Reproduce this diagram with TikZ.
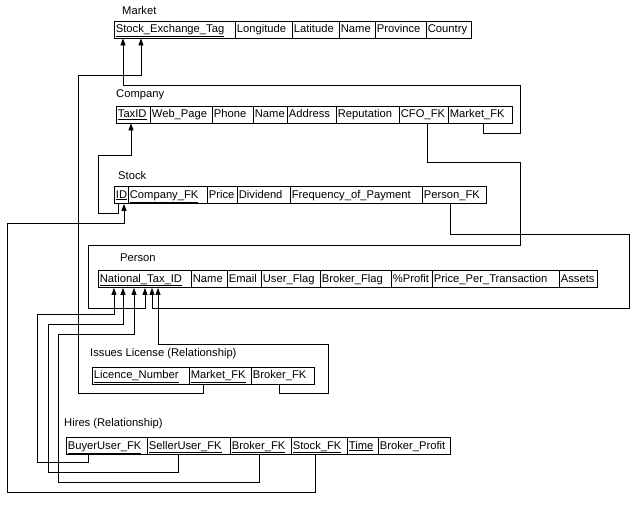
\documentclass[tikz,border=0pt]{standalone}
\usepackage{fontspec}
\setmainfont{Liberation Sans}
\usetikzlibrary{arrows.meta}
\begin{document}
\begin{tikzpicture}[x=1pt,y=-1pt,
  cell/.style={draw,line width=0.8pt,anchor=west,inner xsep=1.5pt,inner ysep=0pt,minimum height=17pt,text height=8.5pt,text depth=2.5pt,align=left,font=\fontsize{11.2}{12}\selectfont},
  ttl/.style={anchor=west,inner sep=0pt,font=\fontsize{11.2}{12}\selectfont},
  con/.style={line width=0.8pt},
  arr/.style={line width=0.8pt,-{Triangle[length=7pt,width=5pt]}}]
\useasboundingbox (0,0) rectangle (636,504);
\newcommand{\cl}[5]{\node[cell,text width=#3-#2-3pt] (#1) at (#2,#4) {#5};}
% Market
\node[ttl] (tm) at (122,10) {Market};
\cl{mset}{114}{235}{29.5}{\underline{Stock\_Exchange\_Tag}}
\cl{mlon}{235}{292}{29.5}{Longitude}
\cl{mlat}{292}{339}{29.5}{Latitude}
\cl{mnam}{339}{375}{29.5}{Name}
\cl{mpro}{375}{426}{29.5}{Province}
\cl{mcou}{426}{471}{29.5}{Country}
% Company
\node[ttl] (tc) at (116,95) {Company};
\cl{ctax}{116}{150}{114.5}{\underline{TaxID}}
\cl{cweb}{150}{212}{114.5}{Web\_Page}
\cl{cpho}{212}{253}{114.5}{Phone}
\cl{cnam}{253}{287}{114.5}{Name}
\cl{cadd}{287}{336}{114.5}{Address}
\cl{crep}{336}{399}{114.5}{Reputation}
\cl{ccfo}{399}{448}{114.5}{CFO\_FK}
\cl{cmkt}{448}{512}{114.5}{Market\_FK}
% Stock
\node[ttl] (ts) at (118,175) {Stock};
\cl{sid}{114}{128}{195}{\underline{ID}}
\cl{scom}{128}{207}{195}{\underline{Company\_FK}}
\cl{spri}{207}{237}{195}{Price}
\cl{sdiv}{237}{290}{195}{Dividend}
\cl{sfre}{290}{422}{195}{Frequency\_of\_Payment}
\cl{sper}{422}{486}{195}{Person\_FK}
% Person
\node[ttl] (tp) at (120,258) {Person};
\cl{pnat}{98}{191}{279}{\underline{National\_Tax\_ID}}
\cl{pnam}{191}{227}{279}{Name}
\cl{pema}{227}{261}{279}{Email}
\cl{pusr}{261}{320}{279}{User\_Flag}
\cl{pbro}{320}{391}{279}{Broker\_Flag}
\cl{ppro}{391}{432}{279}{\%Profit}
\cl{pppt}{432}{559}{279}{Price\_Per\_Transaction}
\cl{pass}{559}{597}{279}{Assets}
% Issues License
\node[ttl] (ti) at (90,354) {Issues License (Relationship)};
\cl{ilic}{92}{189}{375.5}{\underline{Licence\_Number}}
\cl{imkt}{189}{251}{375.5}{\underline{Market\_FK}}
\cl{ibro}{251}{314}{375.5}{Broker\_FK}
% Hires
\node[ttl] (th) at (64,424) {Hires (Relationship)};
\cl{hbuy}{66}{147}{446}{\underline{BuyerUser\_FK}}
\cl{hsel}{147}{230}{446}{\underline{SellerUser\_FK}}
\cl{hbro}{230}{291}{446}{\underline{Broker\_FK}}
\cl{hsto}{291}{347}{446}{\underline{Stock\_FK}}
\cl{htim}{347}{378}{446}{\underline{Time}}
\cl{hbp}{378}{450}{446}{Broker\_Profit}
% connectors
\draw[arr] (483,0 |- cmkt.south) -- (483,133) -- (520,133) -- (520,85) -- (123,85) -- (123,0 |- mset.south);
\draw[arr] (203,0 |- imkt.south) -- (203,393) -- (78,393) -- (78,75) -- (141,75) -- (141,0 |- mset.south);
\draw[arr] (118,0 |- sid.south) -- (118,213) -- (98,213) -- (98,155) -- (131,155) -- (131,0 |- ctax.south);
\draw[arr] (315,0 |- hsto.south) -- (315,492) -- (7,492) -- (7,223) -- (124,223) -- (124,0 |- sid.south);
\draw[arr] (427,0 |- ccfo.south) -- (427,162) -- (520,162) -- (520,245) -- (88,245) -- (88,308) -- (145,308) -- (145,0 |- pnat.south);
\draw[arr] (450,0 |- sper.south) -- (450,234) -- (629,234) -- (629,308) -- (152,308) -- (152,0 |- pnat.south);
\draw[arr] (279,0 |- ibro.south) -- (279,393) -- (328,393) -- (328,344) -- (158,344) -- (158,0 |- pnat.south);
\draw[arr] (88,0 |- hbuy.south) -- (88,462) -- (37.5,462) -- (37.5,314) -- (114,314) -- (114,0 |- pnat.south);
\draw[arr] (178,0 |- hsel.south) -- (178,472) -- (48,472) -- (48,324) -- (123,324) -- (123,0 |- pnat.south);
\draw[arr] (259,0 |- hbro.south) -- (259,482) -- (58,482) -- (58,334) -- (134,334) -- (134,0 |- pnat.south);
\end{tikzpicture}
\end{document}
